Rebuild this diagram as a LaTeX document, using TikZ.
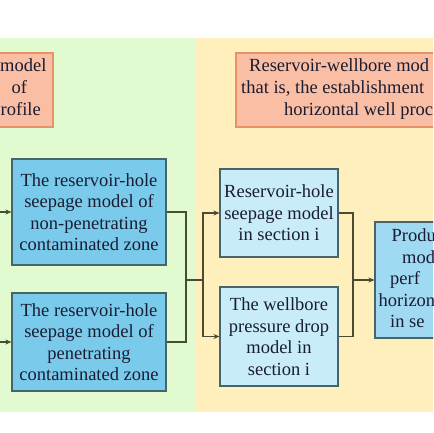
\documentclass[tikz,border=0pt]{standalone}
\usepackage{fontspec}
\setmainfont{Liberation Serif}
\usetikzlibrary{arrows.meta}
\definecolor{greenpanel}{RGB}{225,250,208}
\definecolor{yellowpanel}{RGB}{255,239,188}
\definecolor{salmonfill}{RGB}{250,190,164}
\definecolor{salmonline}{RGB}{232,146,104}
\definecolor{deepfill}{RGB}{122,203,235}
\definecolor{palefill}{RGB}{200,236,250}
\definecolor{midfill}{RGB}{160,218,242}
\definecolor{boxline}{RGB}{70,100,106}
\definecolor{linkline}{RGB}{72,76,48}
\definecolor{ink}{RGB}{26,28,50}

\begin{document}
\begin{tikzpicture}[x=1pt,y=1pt,>={Stealth[length=6pt,width=5pt]},
                txt/.style={text=ink,font=\fontsize{18.5}{21.5}\selectfont},
                box/.style={txt,draw=boxline,line width=1.1pt,inner sep=0pt,align=center},
                deepbox/.style={box,fill=deepfill},
                palebox/.style={box,fill=palefill},
                midbox/.style={box,fill=midfill},
                tagbox/.style={draw=salmonline,line width=1.1pt,fill=salmonfill,minimum height=74pt},
                piece/.style={txt,anchor=base west,inner sep=0pt},
                link/.style={draw=linkline,line width=1.3pt}]
                \useasboundingbox (0,0) rectangle (433,-433);
                \clip (0,0) rectangle (433,-433);
                \fill[white] (0,0) rectangle (433,-433);
                \fill[greenpanel] (0,-38) rectangle (196,-412);
                \fill[yellowpanel] (196,-38) rectangle (433,-412);

                \node[tagbox,minimum width=75pt] (lefttag) at (15.5,-90) {};
                \node[piece] (lt1) at (0,-72) {model};
                \node[piece] (lt2) at (11.5,-94) {of};
                \node[piece] (lt3) at (0.5,-116) {rofile};

                \node[tagbox,minimum width=344pt] (righttag) at (408,-90) {};
                \node[piece] (rt1) at (249,-72) {Reservoir-wellbore mod};
                \node[piece] (rt2) at (241,-94) {that is, the establishment};
                \node[piece] (rt3) at (284,-116) {horizontal well proc};

                \node[deepbox,minimum width=154pt,minimum height=106pt] (nonpen) at (89,-212)
                        {The reservoir-hole\\seepage model of\\non-penetrating\\contaminated zone};
                \node[deepbox,minimum width=154pt,minimum height=98pt] (pen) at (89,-342)
                        {The reservoir-hole\\seepage model of\\penetrating\\contaminated zone};
                \node[palebox,minimum width=118pt,minimum height=88pt] (seep) at (279,-213)
                        {Reservoir-hole\\seepage model\\in section i};
                \node[palebox,minimum width=118pt,minimum height=99pt] (drop) at (279,-336.5)
                        {The wellbore\\pressure drop\\model in\\section i};
                \node[midbox,minimum width=125pt,minimum height=116pt] (prod) at (437.5,-280) {};
                \node[piece] (pr1) at (391.5,-241.5) {Produ};
                \node[piece] (pr2) at (402,-263) {mod};
                \node[piece] (pr3) at (390,-284.5) {perf};
                \node[piece] (pr4) at (378.5,-306) {horizon};
                \node[piece] (pr5) at (390,-327.5) {in se};

                \coordinate (in1) at (0,-212);
                \coordinate (in2) at (0,-342);
                \coordinate (jl) at (186,-280);
                \coordinate (jr) at (203,-280);
                \coordinate (kl) at (353,-280);

                \draw[link,->] (in1) -- (nonpen.west);
                \draw[link,->] (in2) -- (pen.west);
                \draw[link] (nonpen.east) -| (jl);
                \draw[link] (pen.east) -| (jl);
                \draw[link] (jl) -- (jr);
                \draw[link,->] (jr) |- (seep.west);
                \draw[link,->] (jr) |- (drop.west);
                \draw[link] (seep.east) -| (kl);
                \draw[link] (drop.east) -| (kl);
                \draw[link,->] (kl) -- (prod.west);
            \end{tikzpicture}
\end{document}
